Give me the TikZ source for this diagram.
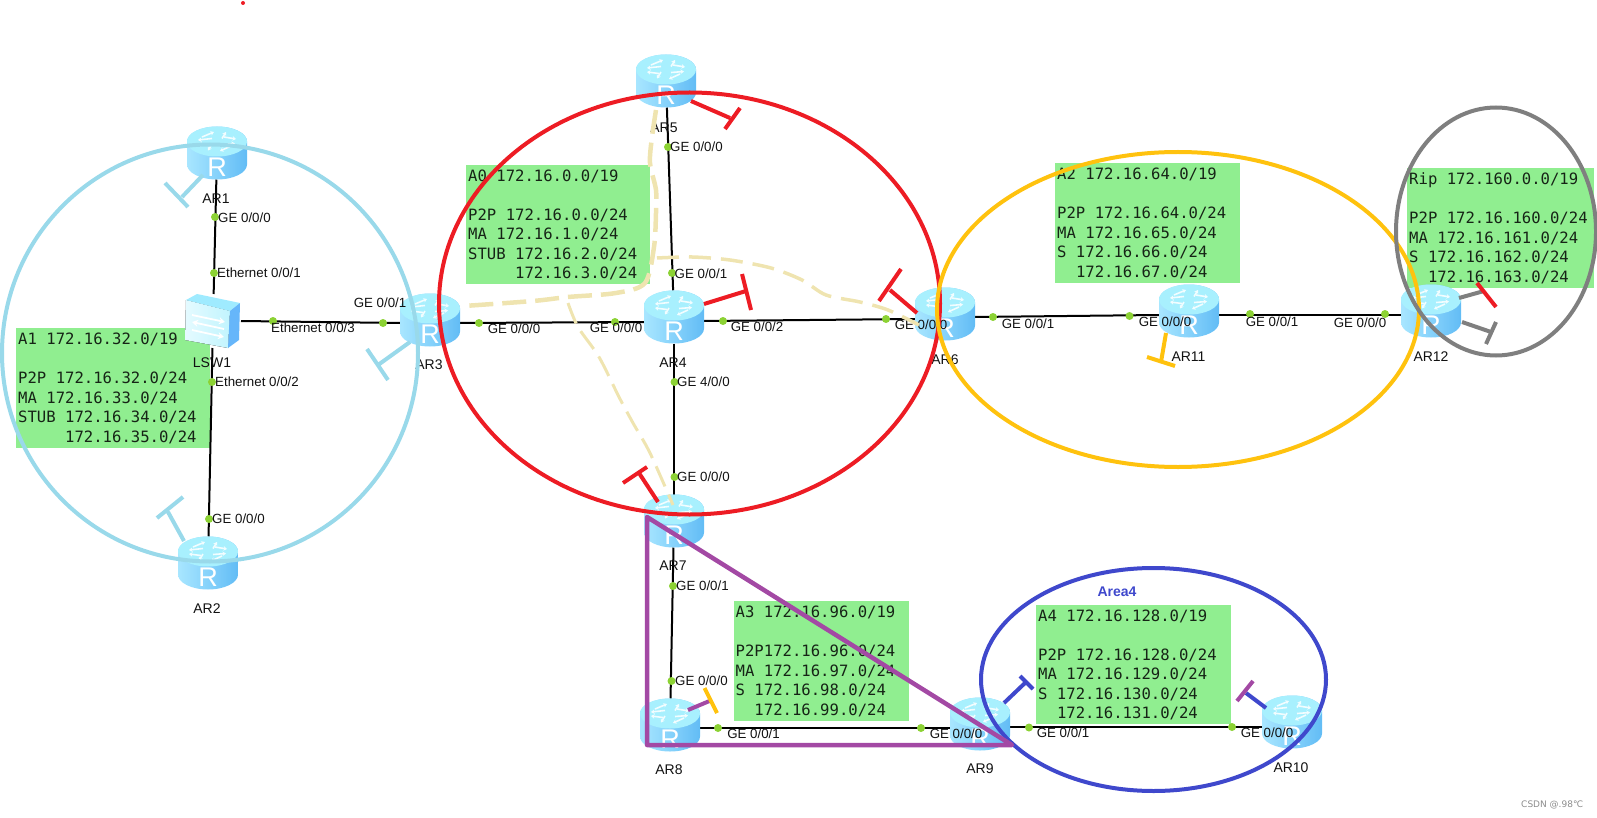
\documentclass[tikz,border=0pt]{standalone}
\usepackage{fontspec}
\setmainfont{Liberation Sans}
\newfontfamily\monof{DejaVu Sans Mono}
\newfontfamily\dejav{DejaVu Sans}
\usetikzlibrary{arrows.meta}
\definecolor{boxgreen}{HTML}{90EE90}
\definecolor{portgreen}{HTML}{8CD234}
\definecolor{aqua}{HTML}{99D9EA}
\definecolor{redc}{HTML}{ED1C24}
\definecolor{yelc}{HTML}{FFC20E}
\definecolor{greyc}{HTML}{7F7F7F}
\definecolor{bluec}{HTML}{3F48CC}
\definecolor{purc}{HTML}{A349A4}
\definecolor{tanc}{HTML}{EFE4B0}
\definecolor{txt}{HTML}{111111}
\definecolor{routL}{HTML}{A8E6FF}
\definecolor{routM}{HTML}{86D2FB}
\definecolor{routR}{HTML}{62BCF5}
\definecolor{routT}{HTML}{A8F0FE}
\definecolor{swside}{HTML}{66B6FA}
\definecolor{swtop}{HTML}{9FEBFF}
\newcount\pn
\newcommand\port[6]{\global\advance\pn by 1\relax
  \node[portdot] (p\the\pn) at (#1,#2) {};
  \node[portlbl,anchor=#5] (l\the\pn) at (#3,#4) {#6};}
\newcommand\routericon[1]{%
  \begin{scope}[shift={(#1.center)}]
    \path[left color=routL,right color=routR,middle color=routM]
      (-30,-11.5) -- (-30,11.5) arc[start angle=180,end angle=360,x radius=30pt,y radius=15pt]
      -- (30,-11.5) arc[start angle=0,end angle=180,x radius=30pt,y radius=15pt] -- cycle;
    \fill[routT] (0,-11.5) ellipse[x radius=30pt,y radius=15pt];
    \draw[routarrow] (-5,-14.5) -- (-19,-13);
    \draw[routarrow] (-15,-16) -- (-3,-21);
    \draw[routarrow] (5,-14.5) -- (9,-21);
    \draw[routarrow] (7,-16) -- (19,-14);
    \draw[routarrow] (-5,-9) -- (-9,-2.5);
    \draw[routarrow] (-7,-7.5) -- (-19,-9);
    \draw[routarrow] (5,-8.5) -- (18,-9.5);
    \draw[routarrow] (14,-7) -- (3,-2);
    \node[text=white,font=\fontsize{27}{27}\selectfont,inner sep=0pt] (#1R) at (0,14) {R};
  \end{scope}}
\tikzset{
  netnode/.style={inner sep=0pt,outer sep=0pt,minimum width=60pt,minimum height=53pt},
  link/.style={draw=black,line width=2pt},
  portdot/.style={circle,fill=portgreen,inner sep=0pt,minimum size=8pt},
  portlbl/.style={text=txt,inner sep=0pt,font=\fontsize{13.3}{15}\selectfont},
  devlbl/.style={text=txt,inner sep=0pt,font=\fontsize{14}{16}\selectfont},
  routarrow/.style={draw=white!85!routT,line width=1.6pt,-{Stealth[length=3.5pt,width=4.5pt]}},
  swarrow/.style={draw=white,line width=1.8pt,-{Stealth[length=6pt,width=7pt]}},
  infobox/.style={fill=boxgreen,anchor=north west,inner xsep=2pt,inner ysep=0pt,align=left,
    font=\monof\fontsize{15.6}{19.5}\selectfont,text=black!85!boxgreen,
    execute at begin node={\spaceskip=0pt\relax}},
  area/.style={line width=4pt},
  tbar/.style={line width=4pt},
  tandash/.style={draw=tanc,line join=round}
}
\begin{document}
\begin{tikzpicture}[x=1pt,y=-1pt]
\useasboundingbox (0,0) rectangle (1597,818);
% info boxes
\node[infobox,text width=190pt,minimum height=120pt] (A1box) at (16,328) {A1 172.16.32.0/19\\~\\P2P 172.16.32.0/24\\MA 172.16.33.0/24\\STUB 172.16.34.0/24\\\phantom{STUB }172.16.35.0/24};
\node[infobox,text width=180pt,minimum height=119pt] (A0box) at (466,165) {A0 172.16.0.0/19\\~\\P2P 172.16.0.0/24\\MA 172.16.1.0/24\\STUB 172.16.2.0/24\\\phantom{STUB }172.16.3.0/24};
\node[infobox,text width=181pt,minimum height=120pt] (A2box) at (1055,163) {A2 172.16.64.0/19\\~\\P2P 172.16.64.0/24\\MA 172.16.65.0/24\\S 172.16.66.0/24\\\phantom{S }172.16.67.0/24};
\node[infobox,text width=183pt,minimum height=120pt] (Ripbox) at (1407,168) {Rip 172.160.0.0/19\\~\\P2P 172.16.160.0/24\\MA 172.16.161.0/24\\S 172.16.162.0/24\\\phantom{S }172.16.163.0/24};
\node[infobox,text width=171.5pt,minimum height=120pt] (A3box) at (733.5,601) {A3 172.16.96.0/19\\~\\P2P172.16.96.0/24\\MA 172.16.97.0/24\\S 172.16.98.0/24\\\phantom{S }172.16.99.0/24};
\node[infobox,text width=190.5pt,minimum height=119pt] (A4box) at (1036,605) {A4 172.16.128.0/19\\~\\P2P 172.16.128.0/24\\MA 172.16.129.0/24\\S 172.16.130.0/24\\\phantom{S }172.16.131.0/24};
% device nodes
\node[netnode] (AR1) at (217,153) {};
\node[netnode] (AR2) at (208,563) {};
\node[netnode] (AR3) at (430,320) {};
\node[netnode] (AR4) at (674,317) {};
\node[netnode] (AR5) at (666,81) {};
\node[netnode] (AR6) at (945,314) {};
\node[netnode] (AR7) at (674,521) {};
\node[netnode] (AR8) at (670,725) {};
\node[netnode] (AR9) at (980,724) {};
\node[netnode] (AR10) at (1292,722) {};
\node[netnode] (AR11) at (1189,311) {};
\node[netnode] (AR12) at (1431,311) {};
\node[netnode,minimum width=56pt,minimum height=54pt] (LSW1) at (213,321) {};
% links
\draw[link] (AR1) -- (LSW1);
\draw[link] (LSW1) -- (AR2);
\draw[link] ([yshift=0pt]LSW1.east) -- ([yshift=-3pt]AR3.west);
\draw[link] ([yshift=-3pt]AR3.east) -- ([yshift=-5pt]AR4.west);
\draw[link] (AR5) -- (AR4);
\draw[link] ([yshift=-4pt]AR4.east) -- ([yshift=-5pt]AR6.west);
\draw[link] (AR4) -- (AR7);
\draw[link] (AR7) -- (AR8);
\draw[link] ([yshift=-3pt]AR6.east) -- ([yshift=-4pt]AR11.west);
\draw[link] ([yshift=-4pt]AR11.east) -- ([yshift=-4pt]AR12.west);
\draw[link] ([yshift=-3pt]AR8.east) -- ([yshift=-4pt]AR9.west);
\draw[link] ([yshift=-3pt]AR9.east) -- ([yshift=-5pt]AR10.west);
% icons
\routericon{AR1}\routericon{AR2}\routericon{AR3}\routericon{AR4}
\routericon{AR5}\routericon{AR6}\routericon{AR7}\routericon{AR8}
\routericon{AR9}\routericon{AR10}\routericon{AR11}\routericon{AR12}
\begin{scope}[shift={(LSW1.center)}]
  \fill[left color=routT!30!white,right color=routT!70!white] (-27,-21) -- (17,-10) -- (15,27) -- (-28,19) -- cycle;
  \fill[swtop] (-27,-21) -- (-16,-27) -- (27,-18) -- (17,-10) -- cycle;
  \fill[swside] (17,-10) -- (27,-18) -- (26,19) -- (15,27) -- cycle;
  \draw[swarrow] (-21,-6) -- (12,1);
  \draw[swarrow] (11,8) -- (-21,1);
  \draw[swarrow] (-21,9) -- (11,16);
\end{scope}
% device labels
\node[devlbl] (tAR1) at (216,199) {AR1};
\node[devlbl] (tAR2) at (207,609) {AR2};
\node[devlbl] (tAR3) at (429,365) {AR3};
\node[devlbl] (tAR4) at (673,363) {AR4};
\node[devlbl] (tAR5) at (664,128) {AR5};
\node[devlbl] (tAR6) at (945,360) {AR6};
\node[devlbl] (tAR7) at (673,566) {AR7};
\node[devlbl] (tAR8) at (669,770) {AR8};
\node[devlbl] (tAR9) at (980,769) {AR9};
\node[devlbl] (tAR10) at (1291,768) {AR10};
\node[devlbl] (tAR11) at (1188.5,357) {AR11};
\node[devlbl] (tAR12) at (1431,357) {AR12};
\node[devlbl] (tLSW1) at (212,363) {LSW1};
% ports
\port{215}{217}{218}{218}{west}{GE 0/0/0}
\port{214}{273}{217}{273}{west}{Ethernet 0/0/1}
\port{212}{382}{215}{382}{west}{Ethernet 0/0/2}
\port{273}{321}{313}{328}{center}{Ethernet 0/0/3}
\port{209}{519}{212}{519}{west}{GE 0/0/0}
\port{383}{323}{380}{303}{center}{GE 0/0/1}
\port{479}{323}{514}{329}{center}{GE 0/0/0}
\port{615}{322}{616}{328}{center}{GE 0/0/0}
\port{668}{147}{670}{147}{west}{GE 0/0/0}
\port{672}{273}{674.5}{274}{west}{GE 0/0/1}
\port{723}{321}{757}{327}{center}{GE 0/0/2}
\port{886}{319}{921}{325}{center}{GE 0/0/0}
\port{674.5}{382}{677}{382}{west}{GE 4/0/0}
\port{674.5}{477}{677}{477}{west}{GE 0/0/0}
\port{993}{317}{1028}{324}{center}{GE 0/0/1}
\port{1129.5}{316}{1165}{322}{center}{GE 0/0/0}
\port{1250}{314}{1272}{322}{center}{GE 0/0/1}
\port{1385}{314}{1360}{323}{center}{GE 0/0/0}
\port{673}{586}{676}{586}{west}{GE 0/0/1}
\port{671.5}{681}{675}{681}{west}{GE 0/0/0}
\port{718}{728}{753.5}{734}{center}{GE 0/0/1}
\port{921}{728}{956}{734}{center}{GE 0/0/0}
\port{1029}{727.5}{1063}{733}{center}{GE 0/0/1}
\port{1232}{727}{1267}{733}{center}{GE 0/0/0}
\node[text=bluec,inner sep=0pt,font=\bfseries\fontsize{14}{16}\selectfont] (area4) at (1117,592) {Area4};
% tan dashed sketches
\draw[tandash,line width=4.5pt,dash pattern=on 24pt off 9pt] plot[smooth,tension=0.5] coordinates {(656,110) (652,137) (650,163) (656,190) (656,213) (654,247) (645,283) (616,293) (568,297) (533,301) (464,306)};
\draw[tandash,line width=3.5pt,dash pattern=on 22pt off 10pt] plot[smooth,tension=0.5] coordinates {(657,258) (692,257) (730,260) (771,268) (802,280) (826,295) (860,302) (888,310) (919,325)};
\draw[tandash,line width=3pt,dash pattern=on 22pt off 9pt] plot[smooth,tension=0.5] coordinates {(568,303) (578,327) (599,357) (619,397) (633,423) (650,453) (673,505)};
% areas
\draw[area,draw=aqua] (210,353) ellipse[x radius=208pt,y radius=208.5pt];
\draw[area,draw=redc] (689.5,303.5) ellipse[x radius=250.5pt,y radius=211pt];
\draw[area,draw=yelc] (1178,309.5) ellipse[x radius=241pt,y radius=157.5pt];
\draw[area,draw=greyc] (1496,231.5) ellipse[x radius=100pt,y radius=124pt];
\draw[area,draw=bluec] (1153.5,679.5) ellipse[x radius=172.5pt,y radius=111.5pt];
\draw[draw=purc,line width=4.5pt,line join=round] (647,517) -- (647,745) -- (1012,745) -- cycle;
% stub marks
\draw[tbar,draw=aqua] (203,175) -- (182,197) (165,183) -- (188,207);
\draw[tbar,draw=aqua] (410,342) -- (378,365) (367,349) -- (388,380);
\draw[tbar,draw=aqua] (184,541) -- (168,512) (157,518) -- (183,497);
\draw[tbar,draw=redc] (691,101) -- (730,118) (740,108) -- (725,129);
\draw[tbar,draw=redc] (704,304) -- (746,291) (742,274) -- (751,310);
\draw[tbar,draw=redc] (917,313) -- (890,290) (901,269) -- (879,301);
\draw[tbar,draw=redc] (658,502) -- (639,473) (647,467) -- (623,483);
\draw[tbar,draw=yelc] (1166,333) -- (1161,362) (1147,357) -- (1175,366);
\draw[tbar,draw=greyc] (1459,298) -- (1484,291);
\draw[tbar,draw=redc] (1477,283) -- (1496,307);
\draw[tbar,draw=greyc] (1462,322) -- (1491,332) (1496,322) -- (1486,344);
\draw[tbar,draw=purc] (688,710) -- (709.5,701);
\draw[tbar,draw=yelc] (704.5,688) -- (717,713);
\draw[tbar,draw=bluec] (1004,703) -- (1025,683) (1020,676) -- (1033,689);
\draw[tbar,draw=bluec] (1266,708) -- (1246,693);
\draw[tbar,draw=purc] (1253,681) -- (1237,701);
% stray dot and watermark
\fill[redc] (243,3) circle[radius=2pt];
\node[text=black!45,inner sep=0pt,anchor=west,font=\dejav\fontsize{9}{11}\selectfont] (wm) at (1521,805) {CSDN @.98℃};
\end{tikzpicture}
\end{document}
